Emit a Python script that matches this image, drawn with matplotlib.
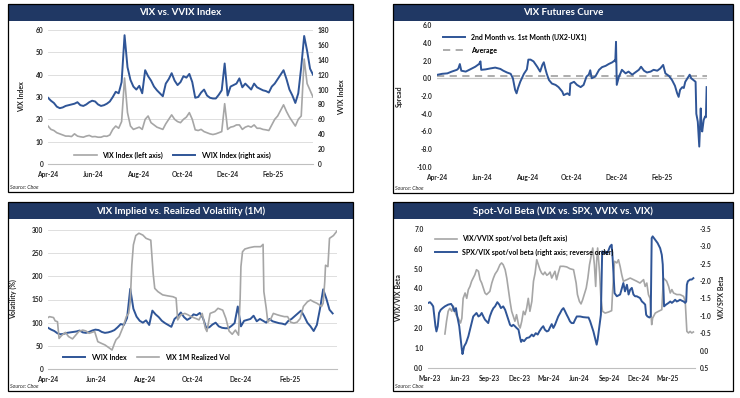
import matplotlib
matplotlib.use('Agg')
import matplotlib.pyplot as plt
import matplotlib.dates as mdates
import matplotlib.ticker as mticker
import pandas as pd
from matplotlib.patches import Rectangle

plt.rcParams['font.family'] = ['Lato', 'DejaVu Sans']

# ---------------- data ----------------
# Panels 1 & 3: 4-day grid starting 2024-04-01
grid_start = '2024-04-01'
grid_len = 91
vvix_index = [89, 85, 82, 77, 75, 76, 78, 79, 80, 81,
              83, 79, 78, 80, 83, 85, 84, 80, 78, 79,
              81, 84, 90, 97, 95, 110, 173, 130, 113, 104,
              100, 105, 95, 126, 118, 112, 104, 99, 95, 91,
              108, 114, 122, 112, 106, 110, 118, 116, 121, 110,
              89, 90, 96, 100, 92, 89, 88, 88, 93, 99,
              135, 92, 104, 106, 108, 115, 103, 108, 104, 100,
              108, 103, 101, 99, 98, 96, 104, 108, 114, 120,
              126, 114, 100, 92, 82, 95, 130, 172, 152, 128,
              120]
vix_index = [17, 15.5, 15, 14, 13.5, 13, 12.5, 12.5, 12.3, 13.5,
             12.5, 12.2, 12, 12.5, 12.8, 12.2, 12.3, 12, 12, 12.5,
             12.4, 13, 15.5, 17, 16, 19, 38.5, 23, 17, 15.5,
             16, 16.5, 15.5, 20, 21.5, 18.5, 17.5, 16.5, 16, 15.5,
             18, 20, 22, 20, 19, 18.5, 20, 21, 23, 20,
             15.3, 15, 15.5, 14.5, 14, 13.5, 13.2, 13.5, 14, 14.5,
             27, 15.5, 16.5, 16.8, 17.5, 17.5, 15.5, 16.5, 17, 16.5,
             17.5, 16, 16, 15.5, 15.3, 15, 17.5, 20, 21.5, 24,
             26.5, 23.5, 21, 19, 17, 20, 21.5, 47, 36, 33,
             30]

# Panel 2: UX2-UX1 spread (days since 2024-04-01)
spread_days = [0, 7, 14, 20, 27, 29, 31, 33, 39, 45, 52, 57, 59, 60, 66, 72, 79, 86, 90, 95,
               100, 103, 106, 108, 110, 113, 118, 122, 124, 127, 131, 136, 140, 143, 145, 147, 149, 152, 156, 161,
               165, 170, 172, 177, 180, 181, 186, 190, 195, 199, 203, 206, 208, 210, 215, 220, 224, 229, 233, 238,
               241, 242, 243, 244, 247, 249, 251, 256, 260, 265, 269, 274, 277, 281, 285, 290, 294, 299, 303, 307,
               310, 315, 319, 323, 326, 328, 330, 333, 335, 337, 340, 343, 345, 348, 351, 352, 354, 356, 358, 359,
               360, 362, 364, 365, 366]
spread_vals = [0.38, 0.5, 0.55, 0.75, 0.95, 1.1, 1.6, 0.85, 0.75, 1.0, 1.3, 1.6, 1.9, 0.95, 1.0, 1.1, 1.2, 1.05, 0.85, 0.65,
               0.5, 0.0, -1.3, -1.7, -1.1, -0.4, 0.5, 1.0, 2.1, 2.1, 1.9, 1.3, 0.75, 1.5, 1.8, 1.1, 0.5, -0.2, -0.6, -0.75,
               -1.0, -1.5, -1.9, -1.7, -1.9, -0.6, -0.4, -0.75, -1.0, -0.75, 0.2, 0.4, 0.9, 0.0, 0.2, 0.95, 1.25, 1.4, 1.6, 1.8,
               2.0, 1.9, 4.1, -0.75, 0.2, 0.55, 0.95, 0.55, 0.75, 0.4, 0.65, 0.95, 1.3, 0.85, 0.65, 0.75, 0.95, 0.85, 1.1, 1.5,
               0.55, 0.25, -0.2, -0.85, -1.7, -2.1, -1.3, -1.0, -1.1, -0.4, 0.0, 0.4, 0.0, -0.2, -0.4, -4.0, -4.9, -7.7, -3.4, -5.5,
               -6.0, -4.7, -4.3, -4.4, -1.0]
spread_average = 0.26

# Panel 3: VIX 1M realized vol (days since 2024-04-01)
rv_days = [0, 2, 7, 9, 12, 14, 17, 22, 26, 31, 35, 39, 44, 48, 52, 59, 63, 68, 72, 77,
           81, 84, 86, 90, 95, 99, 102, 104, 106, 108, 111, 115, 120, 124, 130, 133, 135, 139, 145, 151,
           158, 162, 164, 168, 173, 177, 181, 187, 191, 195, 199, 201, 205, 211, 215, 221, 225, 229, 233, 237,
           241, 243, 244, 246, 249, 255, 261, 269, 272, 273, 276, 278, 282, 285, 290, 294, 299, 303, 307, 311,
           315, 319, 323, 328, 332, 336, 340, 346, 348, 350, 351, 354, 356, 361, 366]
rv_vals = [111, 113, 111, 104, 102, 66, 72, 79, 70, 65, 73, 81, 84, 82, 77, 81, 59, 55, 52, 46,
           41, 55, 63, 70, 91, 113, 120, 145, 224, 268, 288, 293, 289, 282, 278, 206, 174, 167, 160, 158,
           156, 153, 106, 117, 120, 117, 113, 109, 106, 120, 88, 81, 120, 124, 131, 127, 109, 82, 75, 84,
           73, 153, 221, 253, 259, 262, 264, 264, 269, 167, 131, 101, 109, 120, 117, 115, 113, 113, 101, 99,
           101, 109, 135, 145, 149, 145, 142, 135, 142, 188, 224, 221, 282, 288, 299]

# Panel 4: spot-vol betas (days since 2023-03-01)
vvix_beta_days = [46, 51, 56, 61, 67, 72, 80, 87, 94, 98, 102, 108, 113, 118, 123, 128, 133, 138, 143, 149,
                  154, 159, 164, 169, 174, 179, 184, 190, 195, 200, 207, 215, 220, 225, 231, 236, 241, 246, 251, 256,
                  261, 266, 272, 277, 282, 287, 292, 297, 302, 307, 313, 318, 323, 328, 333, 338, 343, 348, 353, 359,
                  364, 369, 374, 379, 384, 389, 394, 400, 405, 410, 420, 430, 441, 449, 453, 459, 464, 469, 474, 480,
                  485, 490, 495, 500, 505, 509, 512, 515, 521, 525, 530, 538, 548, 558, 561, 567, 574, 579, 584, 589,
                  594, 605, 615, 625, 635, 645, 656, 661, 666, 671, 676, 681, 684, 692, 702, 712, 717, 722, 727, 733,
                  738, 743, 748, 758, 768, 779, 784, 789, 794, 799, 804, 809]
vvix_beta_vals = [1.71, 2.35, 2.85, 3.0, 2.85, 3.1, 2.68, 2.5, 2.26, 2.5, 3.5, 3.77, 3.5, 3.94, 4.1, 4.36, 4.52, 4.69, 4.94, 4.86,
                  4.44, 4.27, 4.02, 3.77, 3.69, 3.77, 3.85, 4.27, 4.52, 4.72, 4.89, 5.19, 5.28, 5.19, 4.94, 4.52, 3.94, 3.35, 2.85, 2.6,
                  2.35, 2.68, 2.18, 2.01, 2.35, 2.85, 2.68, 3.0, 3.5, 2.85, 3.35, 4.36, 4.77, 5.44, 5.19, 4.94, 4.77, 4.69, 4.82, 4.66,
                  4.72, 4.82, 4.52, 4.69, 4.86, 4.44, 4.77, 5.11, 5.11, 5.11, 5.08, 4.99, 4.94, 4.27, 3.69, 3.35, 3.22, 3.43, 3.69, 4.02,
                  4.52, 5.19, 5.61, 6.03, 5.19, 4.1, 5.36, 6.03, 4.77, 3.5, 2.85, 2.76, 2.81, 2.88, 3.85, 5.36, 5.28, 5.44, 5.11, 4.69,
                  4.36, 4.44, 4.52, 4.44, 4.36, 4.27, 4.44, 4.1, 4.27, 3.69, 3.5, 2.18, 2.51, 2.76, 2.85, 2.93, 4.52, 4.44, 4.36, 4.1,
                  3.77, 3.94, 3.77, 3.69, 3.69, 3.6, 3.35, 1.84, 1.76, 1.84, 1.76, 1.81]
spx_beta_days = [-5, 0, 5, 10, 13, 17, 20, 24, 28, 33, 39, 46, 56, 65, 70, 75, 80, 84, 90, 94,
                 98, 100, 105, 111, 118, 123, 128, 133, 138, 143, 149, 154, 159, 164, 169, 174, 179, 184, 190, 195,
                 200, 207, 213, 218, 225, 231, 236, 241, 246, 251, 256, 261, 266, 272, 277, 280, 284, 289, 297, 305,
                 313, 318, 325, 331, 336, 343, 348, 353, 359, 364, 369, 374, 379, 384, 389, 394, 400, 405, 410, 415,
                 420, 425, 430, 435, 441, 446, 451, 461, 471, 482, 487, 492, 497, 502, 507, 512, 515, 521, 525, 529,
                 533, 538, 543, 548, 553, 558, 561, 567, 574, 584, 594, 599, 605, 610, 615, 620, 625, 630, 635, 645,
                 651, 656, 661, 664, 668, 674, 678, 681, 684, 692, 699, 707, 712, 715, 717, 719, 725, 733, 738, 743,
                 748, 753, 758, 763, 768, 774, 779, 784, 787, 789, 792, 799, 804, 809]
spx_beta_vals = [-1.37, -1.39, -1.34, -1.27, -1.03, -0.70, -0.55, -0.70, -1.08, -1.17, -1.22, -1.27, -1.32, -1.34, -1.27, -1.13, -1.22, -0.98, -0.70, -0.36,
                 -0.03, 0.10, -0.12, -0.22, -0.41, -0.60, -0.79, -0.98, -1.03, -1.08, -0.98, -1.01, -1.08, -0.98, -0.89, -0.84, -0.79, -0.98, -1.13, -1.22,
                 -1.27, -1.39, -1.32, -1.22, -1.27, -1.17, -1.03, -0.89, -0.74, -0.70, -0.74, -0.70, -0.65, -0.60, -0.36, -0.25, -0.31, -0.27, -0.36, -0.38,
                 -0.46, -0.41, -0.50, -0.46, -0.55, -0.65, -0.70, -0.60, -0.55, -0.57, -0.67, -0.76, -0.65, -0.74, -0.86, -0.98, -1.08, -1.17, -1.22, -1.13,
                 -1.03, -0.94, -0.84, -0.79, -0.79, -0.89, -0.98, -0.98, -0.96, -0.95, -0.95, -0.84, -0.70, -0.55, -0.36, -0.17, -0.31, -0.74, -1.03, -2.85,
                 -2.80, -2.85, -2.77, -2.87, -2.99, -3.04, -2.66, -1.65, -1.56, -1.61, -1.94, -1.70, -1.89, -1.61, -1.75, -1.80, -1.61, -1.56, -1.56, -1.51,
                 -1.41, -1.37, -1.32, -1.03, -0.98, -0.95, -0.98, -3.23, -3.28, -3.18, -3.09, -2.94, -2.75, -2.47, -1.80, -1.27, -1.32, -1.37, -1.41, -1.37,
                 -1.41, -1.46, -1.41, -1.43, -1.46, -1.43, -1.41, -1.37, -1.41, -1.89, -1.99, -2.04, -2.04, -2.08]

# tick labels (month starts)
ticks_2024 = ['2024-04-01', '2024-06-01', '2024-08-01', '2024-10-01', '2024-12-01', '2025-02-01']
ticks_beta = ['2023-03-01', '2023-06-01', '2023-09-01', '2023-12-01', '2024-03-01',
              '2024-06-01', '2024-09-01', '2024-12-01', '2025-03-01']

# ---------------- style ----------------
NAVY = '#203864'
BLUE = '#2F5597'
GRAY = '#A6A6A6'
TXT = '#262626'
GRID = '#D9D9D9'
W, H = 740, 398

fig = plt.figure(figsize=(7.4, 3.98), dpi=100)


def fx(x):
    return x / W


def fy(y):
    return 1 - y / H


def panel(x0, y0, x1, y1, title):
    fig.add_artist(Rectangle((fx(x0), fy(y0 + 17)), fx(x1) - fx(x0), 17 / H,
                             transform=fig.transFigure, facecolor=NAVY, edgecolor='none'))
    fig.add_artist(Rectangle((fx(x0), fy(y1)), fx(x1) - fx(x0), (y1 - y0) / H,
                             transform=fig.transFigure, fill=False, edgecolor='black', lw=0.9))
    fig.text(fx((x0 + x1) / 2), fy(y0 + 8.8), title, color='white', fontweight='bold',
             fontsize=7, ha='center', va='center')
    fig.text(fx(x0 + 2), fy(y1 - 4.5), 'Source: Cboe', style='italic', fontsize=3.8,
             color=TXT, ha='left', va='center')


def new_axes(l, t, r, b):
    return fig.add_axes([fx(l), fy(b), fx(r) - fx(l), fy(t) - fy(b)])


def set_date_ticks(ax, tick_list):
    ax.set_xticks(pd.to_datetime(tick_list))
    ax.xaxis.set_major_formatter(mdates.DateFormatter('%b-%y'))


def style(ax, bottom=True, grid=True):
    for s in ['top', 'left', 'right']:
        ax.spines[s].set_visible(False)
    ax.spines['bottom'].set_visible(bottom)
    ax.spines['bottom'].set_color('#BFBFBF')
    ax.spines['bottom'].set_linewidth(0.8)
    ax.tick_params(axis='both', length=0, labelsize=4.8, labelcolor=TXT, pad=3.5)
    ax.tick_params(axis='x', pad=5)
    for lab in ax.get_xticklabels() + ax.get_yticklabels():
        lab.set_fontweight('bold')
    if grid:
        ax.yaxis.grid(True, color=GRID, lw=0.6)
        ax.set_axisbelow(True)
    ax.set_facecolor('none')


def style_twin(ax):
    for s in ['top', 'left', 'right', 'bottom']:
        ax.spines[s].set_visible(False)
    ax.tick_params(axis='y', length=0, labelsize=4.8, labelcolor=TXT, pad=3.5)
    for lab in ax.get_yticklabels():
        lab.set_fontweight('bold')


base24 = pd.Timestamp('2024-04-01')
grid_dates = pd.date_range(grid_start, periods=grid_len, freq='4D')
spread_dates = base24 + pd.to_timedelta(spread_days, unit='D')
rv_dates = base24 + pd.to_timedelta(rv_days, unit='D')
base23 = pd.Timestamp('2023-03-01')
vvix_beta_dates = base23 + pd.to_timedelta(vvix_beta_days, unit='D')
spx_beta_dates = base23 + pd.to_timedelta(spx_beta_days, unit='D')

leg_prop = {'weight': 'bold', 'size': 5}

# ---------------- Panel 1 ----------------
panel(8, 4, 353, 192, 'VIX vs. VVIX Index')
ax1 = new_axes(48, 30, 313, 164)
l1, = ax1.plot(grid_dates, vix_index, color=GRAY, lw=1.2, label='VIX Index (left axis)')
ax1.set_ylim(0, 60)
ax1.set_yticks(range(0, 61, 10))
ax1.set_xlim(base24, base24 + pd.Timedelta(days=360))
set_date_ticks(ax1, ticks_2024)
ax1r = ax1.twinx()
l2, = ax1r.plot(grid_dates, vvix_index, color=BLUE, lw=1.4, label='VVIX Index (right axis)')
ax1r.set_ylim(0, 180)
ax1r.set_yticks(range(0, 181, 20))
style(ax1)
style_twin(ax1r)
ax1.set_ylabel('VIX Index', fontsize=5, fontweight='bold', color=TXT)
ax1.yaxis.set_label_coords(-0.088, 0.5)
ax1r.set_ylabel('VVIX Index', fontsize=5, fontweight='bold', color=TXT, rotation=90)
ax1r.yaxis.set_label_coords(1.095, 0.5)
ax1.legend([l1, l2], [l1.get_label(), l2.get_label()], loc='center', bbox_to_anchor=(0.47, 0.065),
           ncol=2, frameon=False, handlelength=3.2, columnspacing=1.5, prop=leg_prop)

# ---------------- Panel 2 ----------------
panel(393, 4, 733, 193, 'VIX Futures Curve')
ax2 = new_axes(437, 25, 707, 167)
ax2.axhline(0, color='#C8C8C8', lw=0.9, zorder=1)
l3, = ax2.plot(spread_dates, spread_vals, color=BLUE, lw=1.4, zorder=3,
               label='2nd Month vs. 1st Month (UX2-UX1)')
l4, = ax2.plot([spread_dates[0], spread_dates[-1]], [spread_average, spread_average], color=GRAY,
               lw=1.3, ls=(0, (4, 3)), zorder=2, label='Average')
ax2.set_ylim(-10, 6)
ax2.set_yticks(range(-10, 7, 2))
ax2.yaxis.set_major_formatter(mticker.FormatStrFormatter('%.1f'))
ax2.set_xlim(base24, base24 + pd.Timedelta(days=366.5))
set_date_ticks(ax2, ticks_2024)
style(ax2, bottom=False, grid=False)
ax2.set_ylabel('Spread', fontsize=5, fontweight='bold', color=TXT)
ax2.yaxis.set_label_coords(-0.125, 0.5)
ax2.legend(loc='upper left', bbox_to_anchor=(0.0, 0.985), frameon=False, handlelength=3.2,
           labelspacing=0.9, prop=leg_prop)

# ---------------- Panel 3 ----------------
panel(8, 202, 353, 391, 'VIX Implied vs. Realized Volatility (1M)')
ax3 = new_axes(48, 230, 337, 369)
ax3.plot(grid_dates, vvix_index, color=BLUE, lw=1.4, label='VVIX Index')
ax3.plot(rv_dates, rv_vals, color=GRAY, lw=1.2, label='VIX 1M Realized Vol')
ax3.set_ylim(0, 300)
ax3.set_yticks(range(0, 301, 50))
ax3.set_xlim(base24, base24 + pd.Timedelta(days=365.5))
set_date_ticks(ax3, ticks_2024)
style(ax3)
ax3.set_ylabel('Volatility (%)', fontsize=5, fontweight='bold', color=TXT)
ax3.yaxis.set_label_coords(-0.107, 0.5)
ax3.legend(loc='center', bbox_to_anchor=(0.34, 0.086), ncol=2, frameon=False, handlelength=3.2,
           columnspacing=1.5, prop=leg_prop)

# ---------------- Panel 4 ----------------
panel(393, 202, 733, 391, 'Spot-Vol Beta (VIX vs. SPX, VVIX vs. VIX)')
ax4 = new_axes(428.3, 228.7, 695, 368)
l5, = ax4.plot(vvix_beta_dates, vvix_beta_vals, color=GRAY, lw=1.2,
               label='VIX/VVIX spot/vol beta (left axis)')
ax4.set_ylim(0, 7)
ax4.set_yticks(range(0, 8))
ax4.yaxis.set_major_formatter(mticker.FormatStrFormatter('%.1f'))
ax4.set_xlim(base23 - pd.Timedelta(days=5), base23 + pd.Timedelta(days=814))
set_date_ticks(ax4, ticks_beta)
ax4r = ax4.twinx()
l6, = ax4r.plot(spx_beta_dates, spx_beta_vals, color=BLUE, lw=1.4,
                label='SPX/VIX spot/vol beta (right axis; reverse order)')
ax4r.set_ylim(0.5, -3.5)
ax4r.set_yticks([-3.5, -3.0, -2.5, -2.0, -1.5, -1.0, -0.5, 0.0, 0.5])
ax4r.yaxis.set_major_formatter(mticker.FormatStrFormatter('%.1f'))
style(ax4, grid=False)
style_twin(ax4r)
ax4.set_ylabel('VVIX/VIX Beta', fontsize=5, fontweight='bold', color=TXT)
ax4.yaxis.set_label_coords(-0.1, 0.5)
ax4r.set_ylabel('VIX/SPX Beta', fontsize=5, fontweight='bold', color=TXT, rotation=90)
ax4r.yaxis.set_label_coords(1.086, 0.5)
ax4r.legend([l5, l6], [l5.get_label(), l6.get_label()], loc='upper left', bbox_to_anchor=(0.0, 1.0),
            frameon=False, handlelength=3.2, labelspacing=0.9, prop=leg_prop)

fig.savefig('out.png', dpi=100)
